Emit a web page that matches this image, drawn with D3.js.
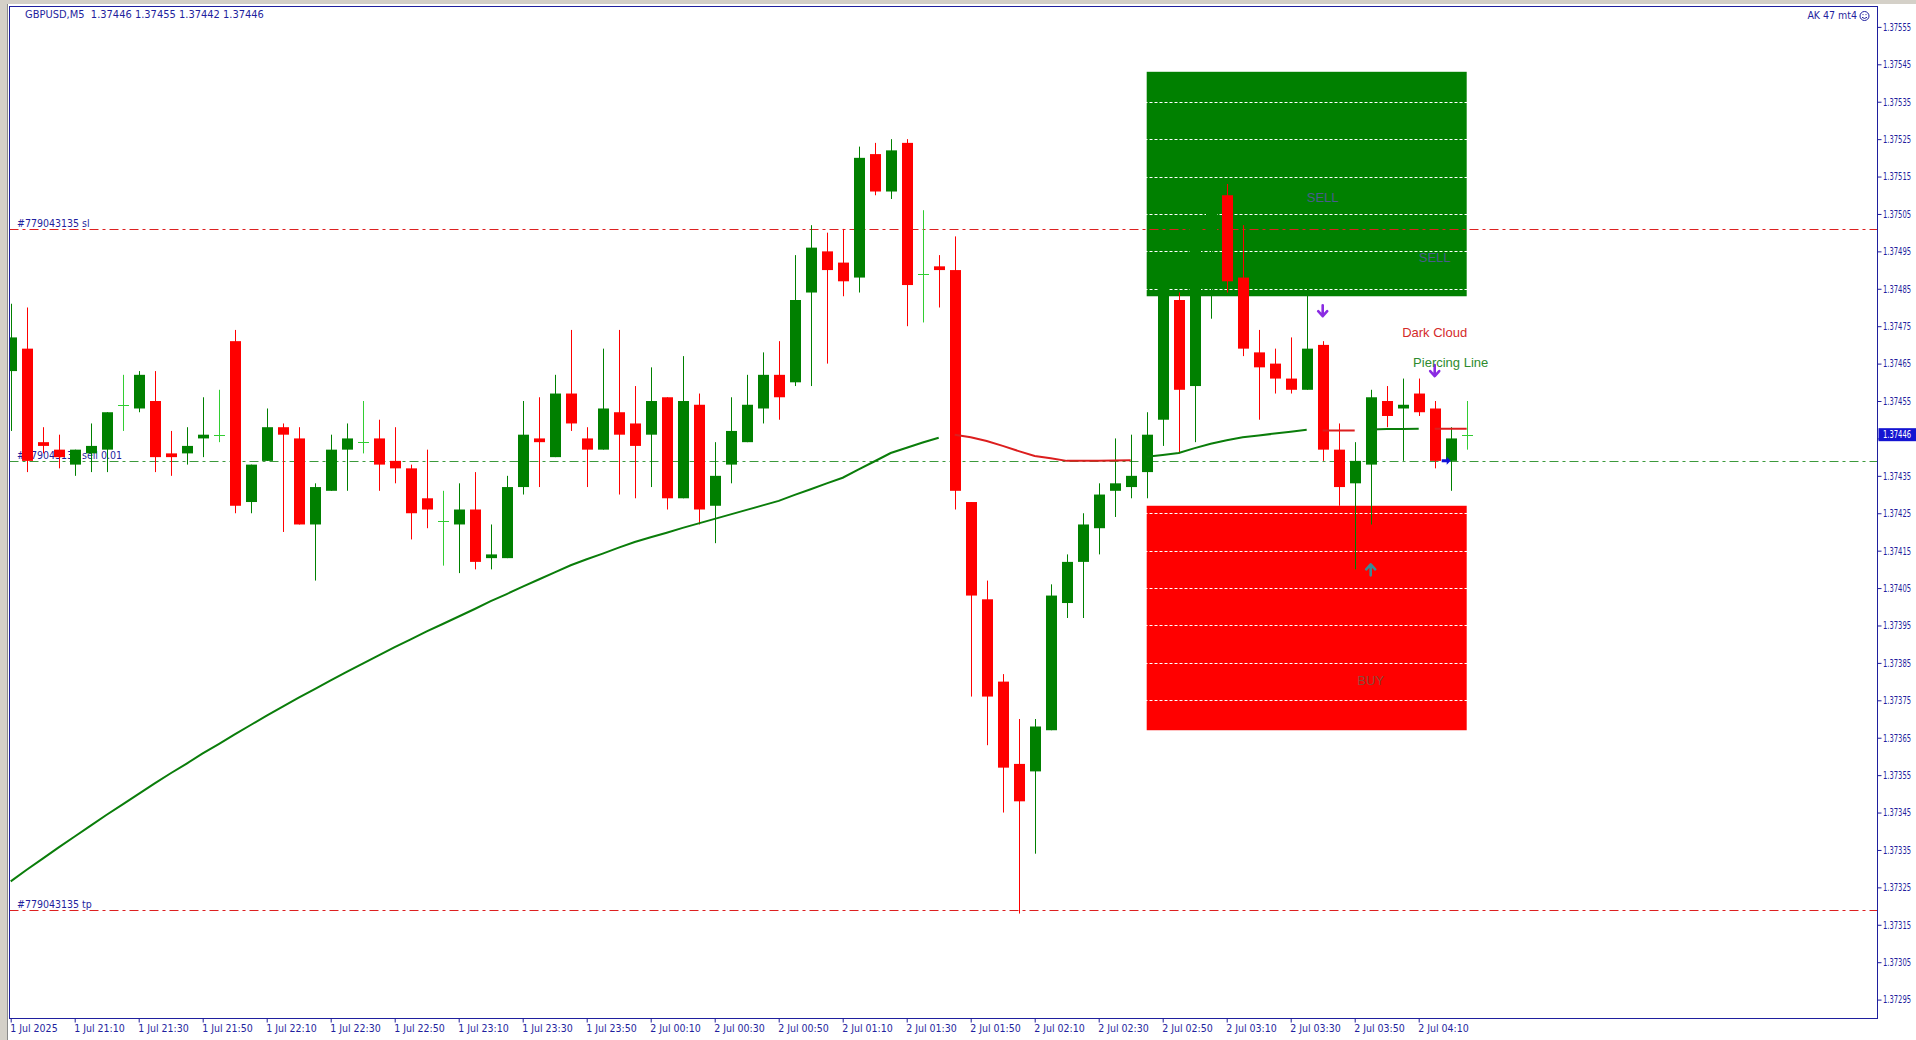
<!DOCTYPE html>
<html>
<head>
<meta charset="utf-8">
<script src="https://cdn.jsdelivr.net/npm/d3@7"></script>
<style>
  body { margin: 0; background: #fff; overflow: hidden; }
  svg { display: block; }
  text { font-family: "Liberation Sans Narrow", "DejaVu Sans Condensed", "Arial Narrow", sans-serif; }
</style>
</head>
<body>
<div id="chart"></div>
<script>
// GBPUSD M5 bars, 1 Jul 20:50 .. 2 Jul 04:25
const opens = [1.37463,1.37469,1.37444,1.37442,1.37438,1.37441,1.37442,1.37454,1.37453,1.37455,
  1.37441,1.37441,1.37445,1.37446,1.37471,1.37428,1.37439,1.37448,1.37445,1.37422,
  1.37431,1.37442,1.37444,1.37445,1.37439,1.37437,1.37429,1.37423,1.37422,1.37426,
  1.37413,1.37413,1.37432,1.37445,1.37440,1.37457,1.37445,1.37442,1.37452,1.37449,
  1.37446,1.37456,1.37429,1.37454,1.37427,1.37438,1.37444,1.37453,1.37462,1.37460,
  1.37484,1.37495,1.37492,1.37488,1.37521,1.37511,1.37524,1.37489,1.37491,1.37490,
  1.37428,1.37402,1.37380,1.37358,1.37356,1.37367,1.37401,1.37412,1.37421,1.37431,
  1.37432,1.37436,1.37450,1.37482,1.37459,1.37497,1.37510,1.37488,1.37468,1.37465,
  1.37461,1.37458,1.37470,1.37442,1.37433,1.37438,1.37455,1.37453,1.37457,1.37453,
  1.37439,1.37446];
const highs = [1.37481,1.37480,1.37448,1.37446,1.37442,1.37449,1.37452,1.37462,1.37463,1.37463,
  1.37447,1.37448,1.37456,1.37458,1.37474,1.37438,1.37453,1.37449,1.37448,1.37433,
  1.37446,1.37449,1.37455,1.37450,1.37448,1.37438,1.37442,1.37431,1.37433,1.37436,
  1.37422,1.37435,1.37455,1.37456,1.37462,1.37474,1.37448,1.37469,1.37474,1.37459,
  1.37464,1.37456,1.37467,1.37457,1.37444,1.37456,1.37462,1.37468,1.37471,1.37494,
  1.37502,1.37500,1.37501,1.37523,1.37524,1.37525,1.37525,1.37506,1.37494,1.37499,
  1.37428,1.37407,1.37382,1.37370,1.37370,1.37406,1.37414,1.37425,1.37433,1.37445,
  1.37446,1.37452,1.37493,1.37484,1.37503,1.37510,1.37513,1.37502,1.37474,1.37469,
  1.37472,1.37487,1.37471,1.37449,1.37444,1.37458,1.37459,1.37461,1.37461,1.37455,
  1.37448,1.37455];
const lows = [1.37447,1.37436,1.37441,1.37437,1.37435,1.37436,1.37436,1.37447,1.37452,1.37436,
  1.37435,1.37438,1.37440,1.37444,1.37425,1.37425,1.37439,1.37420,1.37422,1.37407,
  1.37431,1.37431,1.37441,1.37431,1.37433,1.37418,1.37421,1.37411,1.37409,1.37410,
  1.37410,1.37413,1.37430,1.37432,1.37440,1.37447,1.37432,1.37442,1.37430,1.37429,
  1.37432,1.37426,1.37429,1.37422,1.37417,1.37433,1.37444,1.37449,1.37450,1.37459,
  1.37459,1.37465,1.37483,1.37484,1.37510,1.37509,1.37475,1.37476,1.37480,1.37426,
  1.37376,1.37363,1.37345,1.37318,1.37334,1.37367,1.37397,1.37397,1.37414,1.37424,
  1.37429,1.37429,1.37443,1.37441,1.37444,1.37477,1.37484,1.37467,1.37450,1.37457,
  1.37457,1.37458,1.37439,1.37427,1.37410,1.37422,1.37448,1.37439,1.37451,1.37437,
  1.37431,1.37442];
const closes = [1.37472,1.37439,1.37443,1.37440,1.37442,1.37443,1.37452,1.37454,1.37462,1.37440,
  1.37440,1.37443,1.37446,1.37446,1.37427,1.37438,1.37448,1.37446,1.37422,1.37432,
  1.37442,1.37445,1.37444,1.37438,1.37437,1.37425,1.37426,1.37423,1.37426,1.37412,
  1.37414,1.37432,1.37446,1.37444,1.37457,1.37449,1.37442,1.37453,1.37446,1.37443,
  1.37455,1.37429,1.37455,1.37426,1.37435,1.37447,1.37454,1.37462,1.37456,1.37482,
  1.37496,1.37490,1.37487,1.37520,1.37511,1.37522,1.37486,1.37489,1.37490,1.37431,
  1.37403,1.37376,1.37357,1.37348,1.37368,1.37403,1.37412,1.37422,1.37430,1.37433,
  1.37435,1.37446,1.37490,1.37458,1.37501,1.37507,1.37487,1.37469,1.37464,1.37461,
  1.37458,1.37469,1.37442,1.37432,1.37439,1.37456,1.37451,1.37454,1.37452,1.37439,
  1.37445,1.37446];

// two-colour moving average
const maValues = [1.373266,1.373297,1.373327,1.373357,1.373386,1.373415,1.373444,1.373472,1.373500,1.373528,
  1.373555,1.373581,1.373608,1.373633,1.373659,1.373684,1.373709,1.373733,1.373757,1.373780,
  1.373803,1.373826,1.373848,1.373870,1.373892,1.373913,1.373934,1.373954,1.373974,1.373994,
  1.374015,1.374034,1.374054,1.374073,1.374092,1.374111,1.374127,1.374142,1.374158,1.374173,
  1.374186,1.374198,1.374211,1.374223,1.374235,1.374247,1.374259,1.374271,1.374283,1.374299,
  1.374314,1.374330,1.374345,1.374367,1.374389,1.374411,1.374425,1.374439,1.374452,1.374460,
  1.374453,1.374443,1.374430,1.374416,1.374403,1.374397,1.374390,1.374390,1.374390,1.374391,
  1.374392,1.374401,1.374406,1.374411,1.374424,1.374436,1.374445,1.374453,1.374458,1.374463,
  1.374468,1.374473,1.374471,1.374471,1.374471,1.374474,1.374475,1.374475,1.374476,1.374476,
  1.374476,1.374476];
const maSegStart = [0, 59, 71, 82, 85, 89];
const maSegEnd = [58, 70, 81, 84, 88, 91];
const maSegDir = ['up', 'down', 'up', 'down', 'up', 'down'];

const priceTicks = [1.37555,1.37545,1.37535,1.37525,1.37515,1.37505,1.37495,1.37485,1.37475,1.37465,
  1.37455,1.37445,1.37435,1.37425,1.37415,1.37405,1.37395,1.37385,1.37375,1.37365,
  1.37355,1.37345,1.37335,1.37325,1.37315,1.37305,1.37295];
const timeTickBars = [0,4,8,12,16,20,24,28,32,36,40,44,48,52,56,60,64,68,72,76,80,84,88];
const timeLabels = ['1 Jul 2025','1 Jul 21:10','1 Jul 21:30','1 Jul 21:50','1 Jul 22:10','1 Jul 22:30',
  '1 Jul 22:50','1 Jul 23:10','1 Jul 23:30','1 Jul 23:50','2 Jul 00:10','2 Jul 00:30','2 Jul 00:50',
  '2 Jul 01:10','2 Jul 01:30','2 Jul 01:50','2 Jul 02:10','2 Jul 02:30','2 Jul 02:50','2 Jul 03:10',
  '2 Jul 03:30','2 Jul 03:50','2 Jul 04:10'];

// supply / demand zones
const zoneKind = ['sell', 'buy'];
const zoneFrom = [71, 71];
const zoneTo = [91, 91];
const zoneTop = [1.37543, 1.37427];
const zoneBottom = [1.37483, 1.37367];
const zoneText = ['SELL', 'SELL', 'BUY'];
const zoneTextBar = [82, 89, 85];
const zoneTextPrice = [1.37509, 1.37493, 1.37380];

// order lines
const orderPrices = [1.37501, 1.37439, 1.37319];
const orderNames = ['#779043135 sl', '#779043135 sell 0.01', '#779043135 tp'];
const orderKind = ['stop', 'open', 'stop'];

// pattern signals
const patternNames = ['Dark Cloud', 'Piercing Line'];
const patternBars = [89, 90];
const patternPrices = [1.37473, 1.37465];
const patternKind = ['bear', 'bull'];
const arrowBars = [82, 89, 85];
const arrowPrices = [1.37479, 1.37463, 1.37410];
const arrowDir = ['down', 'down', 'up'];

const header = 'GBPUSD,M5  1.37446 1.37455 1.37442 1.37446';
const bidPrice = 1.37446;

const W = 1916, H = 1040;
const plot = { left: 9.5, top: 6.5, right: 1877.5, bottom: 1018.5 };
const fg = '#1f1f9e';
const narrow = '"Liberation Sans Narrow", "DejaVu Sans Condensed", sans-serif';

const x = d3.scaleLinear().domain([0, 91]).range([10.7, 1466.7]);
const y = d3.scaleLinear().domain([1.37555, 1.37295]).range([26.9, 999.6]);

const svg = d3.select('#chart').append('svg').attr('width', W).attr('height', H);

// window chrome
svg.append('rect').attr('x', 0).attr('y', 0).attr('width', W).attr('height', H).attr('fill', '#fff');
svg.append('rect').attr('x', 0).attr('y', 0).attr('width', 7).attr('height', H).attr('fill', '#d4d0c8');
svg.append('line').attr('x1', 7.5).attr('x2', 7.5).attr('y1', 0).attr('y2', H).attr('stroke', '#8a8a8a');
svg.append('rect').attr('x', 0).attr('y', 0).attr('width', W).attr('height', 4).attr('fill', '#d4d0c8');

svg.append('defs').append('clipPath').attr('id', 'plotclip')
  .append('rect').attr('x', plot.left + 0.5).attr('y', plot.top + 0.5)
  .attr('width', plot.right - plot.left - 1).attr('height', plot.bottom - plot.top - 1);

const g = svg.append('g').attr('clip-path', 'url(#plotclip)');

// zones
zoneKind.forEach((k, i) => {
  g.append('rect')
    .attr('x', x(zoneFrom[i]))
    .attr('y', y(zoneTop[i]))
    .attr('width', x(zoneTo[i]) - x(zoneFrom[i]))
    .attr('height', y(zoneBottom[i]) - y(zoneTop[i]))
    .attr('fill', k === 'sell' ? '#008000' : '#ff0000');
});

// white dotted grid, only shows on the zones
g.selectAll('line.grid').data(priceTicks).enter().append('line')
  .attr('x1', plot.left).attr('x2', plot.right)
  .attr('y1', d => Math.round(y(d)) + 0.5).attr('y2', d => Math.round(y(d)) + 0.5)
  .attr('stroke', '#fff').attr('stroke-dasharray', '3,2');

// zone captions
zoneText.forEach((t, i) => {
  g.append('text')
    .attr('x', x(zoneTextBar[i])).attr('y', y(zoneTextPrice[i]))
    .attr('text-anchor', 'middle').attr('dominant-baseline', 'middle')
    .style('font-family', 'Liberation Sans, Arial, sans-serif')
    .style('font-size', '13px')
    .attr('fill', t === 'BUY' ? '#8a4a3a' : '#4a5c8c')
    .text(t);
});

// order lines and their labels
orderPrices.forEach((p, i) => {
  const yy = Math.round(y(p)) + 0.5;
  g.append('line')
    .attr('x1', plot.left).attr('x2', plot.right).attr('y1', yy).attr('y2', yy)
    .attr('stroke', orderKind[i] === 'open' ? '#3c9a3c' : '#dd2020')
    .attr('stroke-dasharray', '9,4,3,4');
  g.append('text')
    .attr('x', 17).attr('y', yy - 2.5)
    .style('font-size', '10.5px').attr('fill', fg)
    .text(orderNames[i]);
});

// candles
const bars = d3.range(opens.length);
const candleColor = i => closes[i] > opens[i] ? '#008000' : closes[i] < opens[i] ? '#ff0000' : '#32cd32';
const cg = g.append('g');
cg.selectAll('line.wick').data(bars).enter().append('line')
  .attr('x1', i => Math.round(x(i)) + 0.5).attr('x2', i => Math.round(x(i)) + 0.5)
  .attr('y1', i => y(highs[i])).attr('y2', i => y(lows[i]))
  .attr('stroke', candleColor);
cg.selectAll('rect.body').data(bars.filter(i => opens[i] !== closes[i])).enter().append('rect')
  .attr('x', i => Math.round(x(i)) - 5)
  .attr('width', 11)
  .attr('y', i => y(Math.max(opens[i], closes[i])))
  .attr('height', i => Math.max(1, Math.abs(y(opens[i]) - y(closes[i]))))
  .attr('fill', candleColor);
cg.selectAll('line.doji').data(bars.filter(i => opens[i] === closes[i])).enter().append('line')
  .attr('x1', i => Math.round(x(i)) - 5).attr('x2', i => Math.round(x(i)) + 6)
  .attr('y1', i => Math.round(y(closes[i])) + 0.5).attr('y2', i => Math.round(y(closes[i])) + 0.5)
  .attr('stroke', candleColor);

// moving average, one path per colour run
const maLine = d3.line().x(i => x(i)).y(i => y(maValues[i]));
maSegStart.forEach((s, k) => {
  g.append('path')
    .attr('d', maLine(d3.range(s, maSegEnd[k] + 1)))
    .attr('fill', 'none')
    .attr('stroke', maSegDir[k] === 'up' ? '#0a7d0a' : '#dc1e1e')
    .attr('stroke-width', 2);
});

// signal arrows
arrowBars.forEach((b, i) => {
  const ax = x(b), ay = y(arrowPrices[i]);
  const s = arrowDir[i] === 'down' ? 1 : -1;
  const col = arrowDir[i] === 'down' ? '#8a2be2' : '#3a8a96';
  g.append('path')
    .attr('d', `M${ax},${ay - 6 * s} L${ax},${ay + 4 * s} M${ax - 4.5},${ay} L${ax},${ay + 5 * s} L${ax + 4.5},${ay}`)
    .attr('fill', 'none').attr('stroke', col).attr('stroke-width', 2.6)
    .attr('stroke-linejoin', 'round').attr('stroke-linecap', 'round');
});
// order entry marker
{
  const ex = x(90) - 4, ey = y(orderPrices[1]);
  g.append('path')
    .attr('d', `M${ex - 5},${ey - 1.5} L${ex},${ey - 1.5} L${ex},${ey - 4} L${ex + 4},${ey} L${ex},${ey + 4} L${ex},${ey + 1.5} L${ex - 5},${ey + 1.5} Z`)
    .attr('fill', '#1010d8');
}

// pattern names
patternNames.forEach((t, i) => {
  g.append('text')
    .attr('x', x(patternBars[i])).attr('y', y(patternPrices[i]))
    .attr('text-anchor', 'middle').attr('dominant-baseline', 'middle')
    .style('font-family', 'Liberation Sans, Arial, sans-serif')
    .style('font-size', '13px')
    .attr('fill', patternKind[i] === 'bear' ? '#d42a2a' : '#2e8b2e')
    .text(t);
});

// frame
svg.append('rect')
  .attr('x', plot.left).attr('y', plot.top)
  .attr('width', plot.right - plot.left).attr('height', plot.bottom - plot.top)
  .attr('fill', 'none').attr('stroke', fg);

// price axis (the label under the bid box is hidden, as in the terminal)
const yAxis = svg.append('g').attr('transform', `translate(${plot.right},0)`)
  .call(d3.axisRight(y).tickValues(priceTicks).tickFormat(d3.format('.5f')).tickSize(4));
yAxis.select('.domain').remove();
yAxis.selectAll('line').attr('stroke', fg);
yAxis.selectAll('text').attr('fill', fg).style('font-size', '10.5px')
  .style('font-family', narrow)
  .attr('x', 0).attr('transform', 'translate(5.5,0) scale(0.72,1)')
  .filter(d => Math.abs(y(d) - y(bidPrice)) < 8).remove();

// time axis
const xAxis = svg.append('g').attr('transform', `translate(0,${plot.bottom})`)
  .call(d3.axisBottom(x).tickValues(timeTickBars).tickFormat((d, i) => timeLabels[i]).tickSize(4).tickPadding(2));
xAxis.select('.domain').remove();
xAxis.selectAll('line').attr('stroke', fg);
xAxis.selectAll('text').attr('fill', fg).attr('text-anchor', 'start').attr('x', -1)
  .style('font-size', '10.5px')
  .style('font-family', narrow);

// bid label
svg.append('rect').attr('x', plot.right + 1).attr('y', y(bidPrice) - 6.5)
  .attr('width', W - plot.right - 1).attr('height', 13).attr('fill', '#1414d2');
svg.append('text')
  .attr('transform', `translate(${plot.right + 5.5},${y(bidPrice)}) scale(0.72,1)`)
  .attr('dominant-baseline', 'middle').attr('fill', '#fff').style('font-size', '10.5px')
  .text(d3.format('.5f')(bidPrice));

// header and expert label
svg.append('text').attr('x', 25).attr('y', 15).attr('dominant-baseline', 'middle')
  .attr('fill', fg).style('font-size', '11px').attr('xml:space', 'preserve').text(header);
svg.append('text').attr('x', 1857).attr('y', 16).attr('dominant-baseline', 'middle')
  .attr('text-anchor', 'end').attr('fill', fg).style('font-size', '10.5px').text('AK 47 mt4');
svg.append('circle').attr('cx', 1864.5).attr('cy', 16).attr('r', 4.5)
  .attr('fill', 'none').attr('stroke', fg);
svg.append('path').attr('d', 'M1862,17.3 Q1864.5,19.6 1867,17.3')
  .attr('fill', 'none').attr('stroke', fg);
svg.append('circle').attr('cx', 1863).attr('cy', 14.6).attr('r', 0.6).attr('fill', fg);
svg.append('circle').attr('cx', 1866).attr('cy', 14.6).attr('r', 0.6).attr('fill', fg);
</script>
</body>
</html>
